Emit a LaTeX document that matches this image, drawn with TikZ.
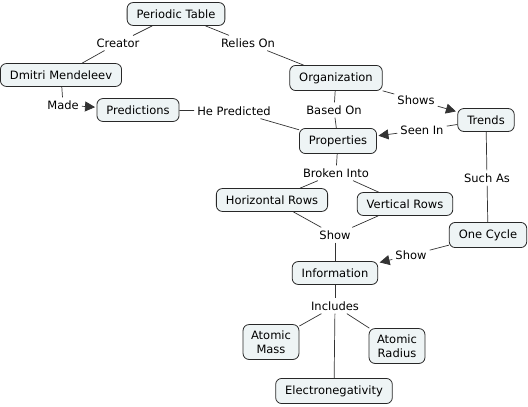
\documentclass[tikz,border=0pt]{standalone}
\usepackage{fontspec}
\setmainfont{DejaVu Sans}
\usetikzlibrary{arrows.meta}
\definecolor{boxfill}{RGB}{238,244,245}
\definecolor{boxline}{RGB}{40,40,40}
\begin{document}
\begin{tikzpicture}[x=1pt,y=-1pt,
  concept/.style={draw=boxline,fill=boxfill,rounded corners=6pt,inner xsep=9.5pt,inner ysep=7pt,font=\fontsize{11.5}{14}\selectfont,align=center,line width=0.8pt},
  lbl/.style={inner sep=3pt,font=\fontsize{11.5}{14}\selectfont},
  conn/.style={draw=black!80,line width=0.7pt},
  arr/.style={conn,-{Triangle[length=10pt,width=10pt]},shorten >=1.5pt}]
\useasboundingbox (0,0) rectangle (528,407);
% concepts
\node[concept] (pt) at (176,14) {Periodic Table};
\node[concept] (dm) at (61,75) {Dmitri Mendeleev};
\node[concept] (pr) at (138,110) {Predictions};
\node[concept] (org) at (336,78) {Organization};
\node[concept] (tr) at (486,120) {Trends};
\node[concept] (prop) at (338,141) {Properties};
\node[concept] (hr) at (272,200) {Horizontal Rows};
\node[concept] (vr) at (405,204) {Vertical Rows};
\node[concept] (oc) at (488,235) {One Cycle};
\node[concept] (inf) at (335,273) {Information};
\node[concept,inner xsep=8pt,inner ysep=6pt] (am) at (271,342) {Atomic\\Mass};
\node[concept,inner xsep=8pt,inner ysep=6pt] (ar) at (397,346) {Atomic\\ Radius};
\node[concept] (el) at (334,391) {Electronegativity};
% labels
\node[lbl] (creator) at (118,43) {Creator};
\node[lbl] (relies) at (248,43) {Relies On};
\node[lbl] (made) at (63,105) {Made};
\node[lbl] (hep) at (234,111) {He Predicted};
\node[lbl] (based) at (334,110) {Based On};
\node[lbl] (shows) at (416,100) {Shows};
\node[lbl] (seen) at (422,130) {Seen In};
\node[lbl] (broken) at (336,173) {Broken Into};
\node[lbl] (such) at (487,178) {Such As};
\node[lbl] (show1) at (335,235) {Show};
\node[lbl] (show2) at (411,255) {Show};
\node[lbl] (incl) at (335,306) {Includes};
% connectors
\draw[conn] (pt) -- (creator);
\draw[conn] (creator) -- (dm);
\draw[conn] (pt) -- (relies);
\draw[conn] (relies) -- (org);
\draw[conn] (dm) -- (made);
\draw[arr] (made) -- (pr);
\draw[conn] (pr) -- (hep);
\draw[conn] (hep) -- (prop);
\draw[conn] (org) -- (based);
\draw[conn] (based) -- (prop);
\draw[conn] (org) -- (shows);
\draw[arr] (shows) -- (tr);
\draw[conn] (tr) -- (seen);
\draw[arr] (seen) -- (prop);
\draw[conn] (prop) -- (broken);
\draw[conn] (broken) -- (hr);
\draw[conn] (broken) -- (vr);
\draw[conn] (hr) -- (show1);
\draw[conn] (vr) -- (show1);
\draw[conn] (show1) -- (inf);
\draw[conn] (tr) -- (such);
\draw[conn] (such) -- (oc);
\draw[conn] (oc) -- (show2);
\draw[arr] (show2) -- (inf);
\draw[conn] (inf) -- (incl);
\draw[conn] (incl) -- (am);
\draw[conn] (incl) -- (ar);
\draw[conn] (incl) -- (el);
\end{tikzpicture}
\end{document}
